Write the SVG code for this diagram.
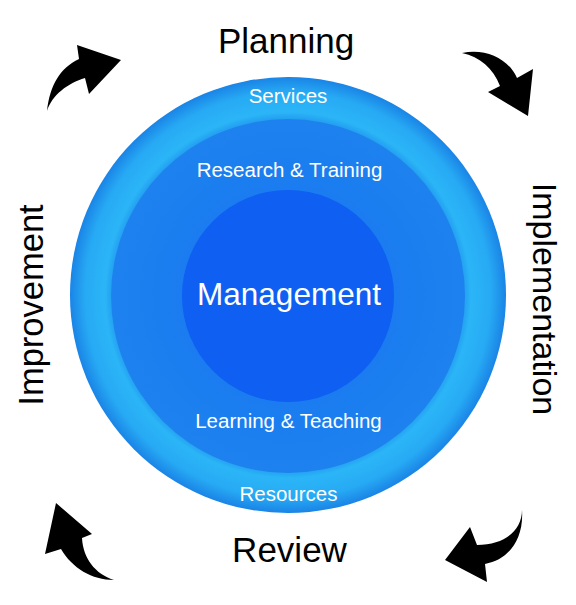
<svg xmlns="http://www.w3.org/2000/svg" width="576" height="605" viewBox="0 0 576 605">
<style>
.lbl{font-family:"Liberation Sans",Arial,sans-serif;fill:#000;font-size:35px;text-anchor:middle}
.in{font-family:"Liberation Sans",Arial,sans-serif;fill:#fff;font-size:20.5px;text-anchor:middle}
.arr{fill:#000;stroke:none}
</style>
<defs>
<radialGradient id="gOuter" cx="288" cy="295" r="218" gradientUnits="userSpaceOnUse">
<stop offset="0.78" stop-color="#1c8cec"/>
<stop offset="0.84" stop-color="#2bb5f7"/>
<stop offset="0.93" stop-color="#27aaf4"/>
<stop offset="1" stop-color="#1a84e6"/>
</radialGradient>
<radialGradient id="gMid" cx="288" cy="296" r="177" gradientUnits="userSpaceOnUse">
<stop offset="0.6" stop-color="#1a7cf0"/>
<stop offset="1" stop-color="#1d82ee"/>
</radialGradient>
</defs>
<rect width="576" height="605" fill="#fff"/>
<g id="services">
<circle cx="288" cy="295" r="218" fill="url(#gOuter)"/>
<text class="in" x="288" y="103">Services</text>
<text class="in" x="288.5" y="501">Resources</text>
</g>
<g id="research-training">
<circle cx="288" cy="296" r="177" fill="url(#gMid)"/>
<text class="in" x="289.5" y="177">Research &amp; Training</text>
<text class="in" x="288.5" y="428">Learning &amp; Teaching</text>
</g>
<g id="management">
<circle cx="288" cy="296" r="106" fill="#0f5ff2"/>
<text class="in" x="289" y="305" style="font-size:31.5px">Management</text>
</g>
<g id="planning"><text class="lbl" x="286" y="53">Planning</text></g>
<g id="implementation"><text class="lbl" transform="translate(533,299) rotate(90)" x="0" y="0" style="font-size:34px">Implementation</text></g>
<g id="review"><text class="lbl" x="289.5" y="562">Review</text></g>
<g id="improvement"><text class="lbl" transform="translate(43,305) rotate(-90)" x="0" y="0" style="font-size:34.5px">Improvement</text></g>
<g id="connectors">
<path class="arr" d="M47,111 C50,85 60,68 79,59 L77,45 L121,60 L89,94 L85,78 C68,83 52,95 47,111 Z"/>
<path class="arr" d="M462,53 C485,48 508,58 517,78 L533,69 L528,116 L488,92 L500,86 C493,68 480,57 462,53 Z"/>
<path class="arr" d="M522,510 C522,530 505,545 477,545 L470,527 L445,560 L487,582 L485,564 C508,560 524,540 522,510 Z"/>
<path class="arr" d="M56,503 L92,534 L82,538 C83,558 95,574 114,580 C92,580 72,568 61,549 L45,554 Z"/>
</g>
</svg>
